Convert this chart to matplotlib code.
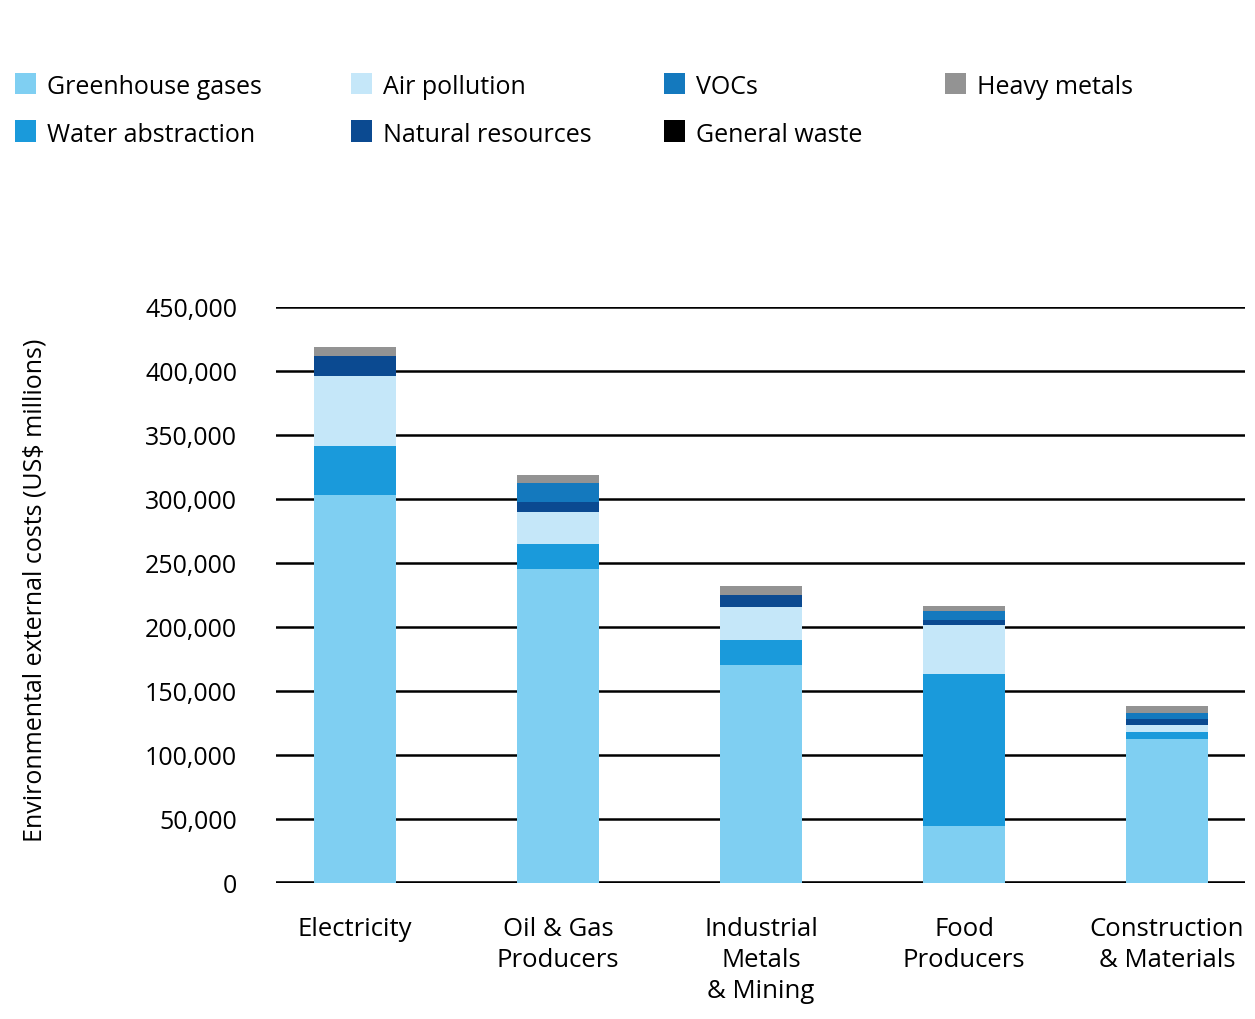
import matplotlib
matplotlib.use("Agg")
import matplotlib.pyplot as plt
import numpy as np
from matplotlib.patches import Rectangle
from matplotlib.ticker import FuncFormatter, MultipleLocator

plt.rcParams['font.family'] = ['Open Sans', 'DejaVu Sans']

categories = ["Electricity", "Oil & Gas\nProducers", "Industrial\nMetals\n& Mining",
              "Food\nProducers", "Construction\n& Materials"]

series_names = ["Greenhouse gases", "Water abstraction", "Air pollution",
                "Natural resources", "VOCs", "General waste", "Heavy metals"]

greenhouse_gases  = [303000, 245300, 170300, 44500, 112500]
water_abstraction = [38300, 19500, 19500, 118800, 5500]
air_pollution     = [54700, 25000, 25800, 38300, 5500]
natural_resources = [15600, 7800, 9400, 3900, 4700]
vocs              = [0, 14800, 0, 7000, 4700]
general_waste     = [0, 0, 0, 0, 0]
heavy_metals      = [7000, 6300, 7000, 3900, 5500]

colors = {
    "Greenhouse gases": "#7FCFF2",
    "Water abstraction": "#1A9ADB",
    "Air pollution": "#C5E7F9",
    "Natural resources": "#0B4A91",
    "VOCs": "#1479BE",
    "General waste": "#000000",
    "Heavy metals": "#939393",
}

series = [greenhouse_gases, water_abstraction, air_pollution, natural_resources,
          vocs, general_waste, heavy_metals]

W, H = 1255, 1020
fig = plt.figure(figsize=(W / 100, H / 100), dpi=100)
ax = fig.add_axes([276 / W, (H - 884) / H, (1245 - 276) / W, (884 - 308) / H])

x = np.arange(len(categories))
bottom = np.zeros(len(categories))
for name, vals in zip(series_names, series):
    vals = np.array(vals, dtype=float)
    ax.bar(x, vals, bottom=bottom, width=0.404, color=colors[name], linewidth=0, zorder=3)
    bottom += vals

ax.set_ylim(0, 450000)
ax.set_xlim(-0.389, 4.384)
ax.yaxis.set_major_locator(MultipleLocator(50000))
ax.yaxis.set_major_formatter(FuncFormatter(lambda v, p: f"{int(v):,}"))
ax.grid(axis='y', color='black', linewidth=1.8, zorder=1)
ax.set_axisbelow(True)
for s in ax.spines.values():
    s.set_visible(False)
ax.axhline(0, color='black', linewidth=2.6, zorder=2)
ax.tick_params(axis='y', length=0, pad=28, labelsize=18)
ax.tick_params(axis='x', length=0, pad=24, labelsize=18.5)
ax.set_xticks(x)
ax.set_xticklabels(categories, linespacing=1.3)
ax.set_ylabel("Environmental external costs (US$ millions)", fontsize=18, labelpad=0)
ax.yaxis.set_label_coords((48 - 276) / (1245 - 276), (884 - 590) / (884 - 308))

# legend
legend_pos = {
    "Greenhouse gases": (15, 84),
    "Water abstraction": (15, 132),
    "Air pollution": (351, 84),
    "Natural resources": (351, 132),
    "VOCs": (664, 84),
    "General waste": (664, 132),
    "Heavy metals": (945, 84),
}
sq = 21
for name in series_names:
    px, py = legend_pos[name]
    fig.patches.append(Rectangle((px / W, (H - py - sq / 2) / H), sq / W, sq / H,
                                 transform=fig.transFigure, color=colors[name], linewidth=0))
    fig.text((px + 32) / W, (H - py - 3) / H, name, fontsize=18, va='center', ha='left')

fig.savefig("out.png", dpi=100)
